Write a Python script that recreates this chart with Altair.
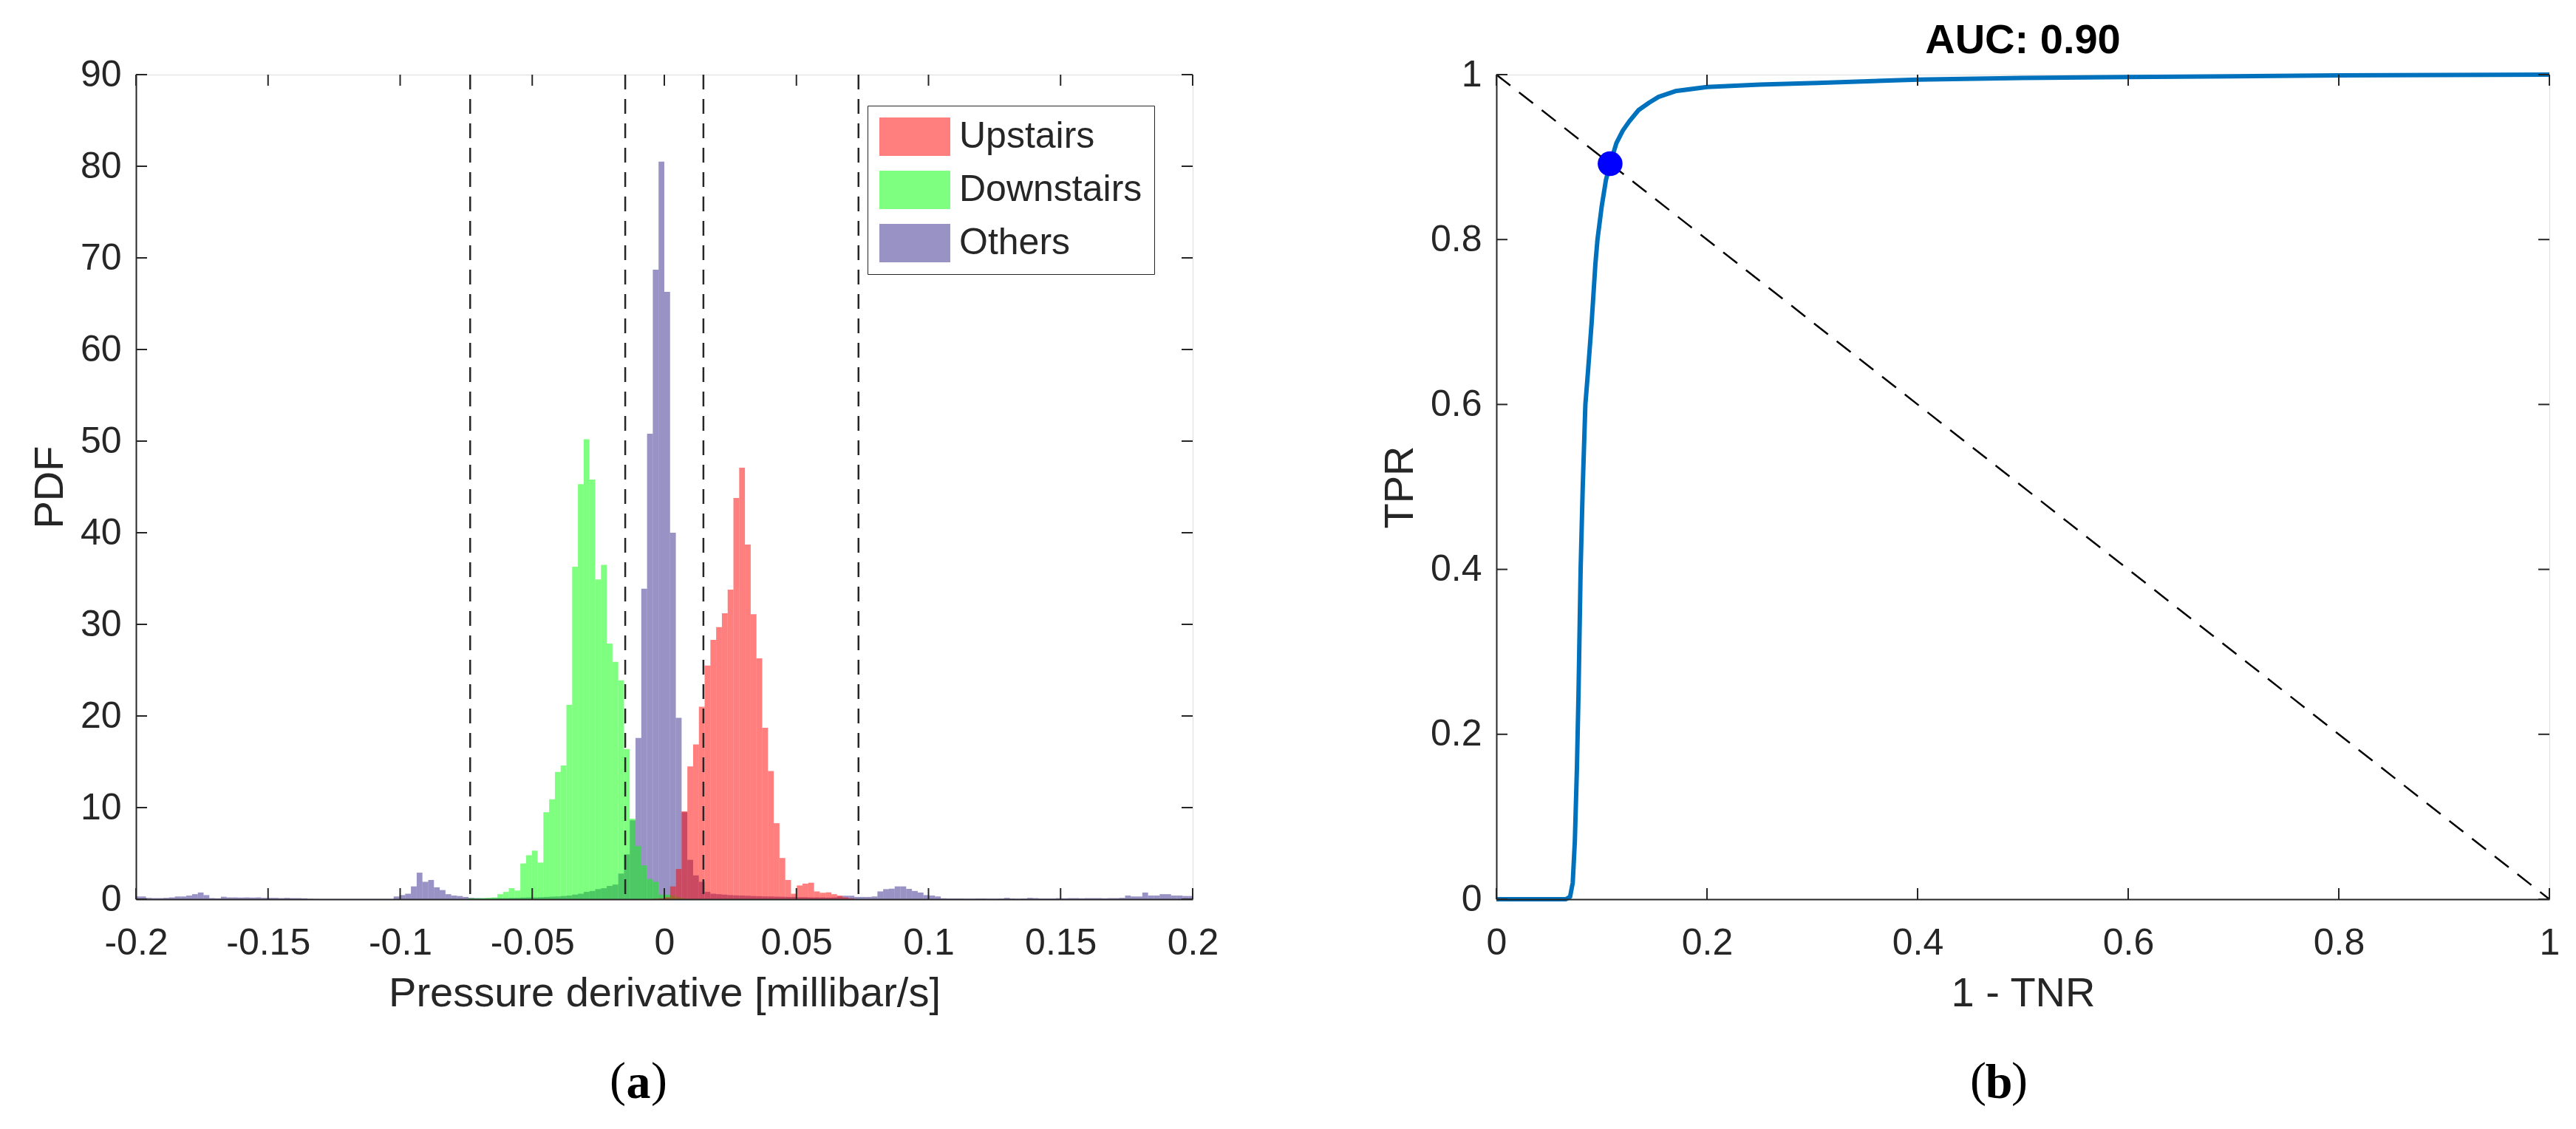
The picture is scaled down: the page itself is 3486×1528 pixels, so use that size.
import altair as alt
import pandas as pd

# ---------------- data: panel (a) histograms ----------------
BIN_W = 0.00218  # bin width of the PDF histograms [millibar/s]

# each series: index of the first bin (bin k spans [k*BIN_W, (k+1)*BIN_W]) and PDF values
up_start = -2
up_vals = [0.05, 0.1, 0.2, 1.4, 3.3, 9.6, 14.5, 16.9, 21.0, 25.5, 28.3, 29.7, 31.2, 33.8,
           43.8, 47.1, 38.7, 31.1, 26.3, 18.7, 14.0, 8.3, 4.5, 2.1, 0.6, 1.5, 1.7, 1.8,
           0.85, 0.7, 0.75, 0.55, 0.4, 0.2, 0.1]

down_start = -34
down_vals = [0.1, 0.1, 0.12, 0.15, 0.2, 0.55, 0.8, 1.2, 0.95, 3.9, 4.8, 5.3, 4.0, 9.5,
             10.9, 13.9, 14.6, 21.2, 36.3, 45.3, 50.2, 45.8, 34.9, 36.5, 27.9, 25.9, 23.9,
             16.4, 8.8, 5.8, 3.7, 2.2, 1.9, 0.5, 0.5, 0.4, 0.2, 0.1]

oth_start = -92
oth_vals = [
    # -92 .. -60
    0.3, 0.3, 0.15, 0.12, 0.12, 0.15, 0.2, 0.3, 0.3, 0.4, 0.55, 0.73, 0.45, 0.12, 0.1,
    0.27, 0.2, 0.2, 0.18, 0.2, 0.18, 0.2, 0.15, 0.15, 0.15, 0.12, 0.15, 0.12, 0.12, 0.1,
    0.05, 0.03, 0.02,
    # -59 .. -48
    0.02, 0.02, 0.02, 0.02, 0.02, 0.02, 0.02, 0.02, 0.02, 0.02, 0.02, 0.02,
    # -47 .. -34
    0.3, 0.45, 0.6, 1.4, 2.9, 1.9, 2.1, 1.3, 1.0, 0.55, 0.4, 0.35, 0.25, 0.15,
    # -33 .. -17
    0.12, 0.1, 0.1, 0.1, 0.12, 0.12, 0.15, 0.15, 0.18, 0.2, 0.2, 0.22, 0.25, 0.28, 0.3,
    0.35, 0.4,
    # -16 .. 11
    0.5, 0.6, 0.8, 0.9, 1.1, 1.2, 1.45, 1.6, 2.8, 4.9, 8.6, 17.6, 33.9, 50.8, 68.7, 80.5,
    66.3, 40.0, 19.8, 9.5, 4.3, 2.6, 1.9, 0.8, 0.6, 0.55, 0.5, 0.45,
    # 12 .. 47
    0.42, 0.4, 0.38, 0.35, 0.33, 0.3, 0.3, 0.28, 0.27, 0.25, 0.25, 0.22, 0.22, 0.2, 0.2,
    0.2, 0.18, 0.2, 0.3, 0.38, 0.38, 0.25, 0.25, 0.25, 0.3, 0.85, 1.1, 1.15, 1.4, 1.4,
    1.13, 0.9, 0.73, 0.45, 0.4, 0.3,
    # 48 .. 91
    0.1, 0.08, 0.08, 0.08, 0.06, 0.06, 0.08, 0.08, 0.06, 0.06, 0.08, 0.15, 0.08, 0.06,
    0.08, 0.15, 0.12, 0.08, 0.08, 0.08, 0.12, 0.1, 0.12, 0.12, 0.1, 0.12, 0.12, 0.12,
    0.1, 0.12, 0.12, 0.15, 0.4, 0.3, 0.3, 0.73, 0.4, 0.4, 0.55, 0.55, 0.4, 0.4, 0.35, 0.35,
]

thresholds = [-0.0735, -0.0148, 0.0148, 0.0735]
series_names = ["Upstairs", "Downstairs", "Others"]
series_colors = ["#FF0000", "#00FF00", "#33288C"]

x_ticks_a = [-0.2, -0.15, -0.1, -0.05, 0, 0.05, 0.1, 0.15, 0.2]
y_ticks_a = [0, 10, 20, 30, 40, 50, 60, 70, 80, 90]

# ---------------- data: panel (b) ROC ----------------
fpr = [0, 0.066, 0.0700, 0.0725, 0.0745, 0.0765, 0.0780, 0.0800, 0.0820, 0.0845, 0.0870,
       0.0905, 0.0940, 0.0960, 0.1000, 0.1040, 0.1080, 0.1140, 0.1200, 0.1260, 0.1350,
       0.1450, 0.1540, 0.1700, 0.2000, 0.2500, 0.3050, 0.4000, 0.5000, 0.6000, 0.7000,
       0.8000, 0.9000, 1.0]
tpr = [0, 0, 0.003, 0.02, 0.07, 0.16, 0.25, 0.40, 0.50, 0.60, 0.64, 0.70, 0.77, 0.80, 0.84,
       0.872, 0.892, 0.917, 0.932, 0.943, 0.957, 0.966, 0.973, 0.980, 0.985, 0.988, 0.990,
       0.994, 0.996, 0.997, 0.998, 0.999, 0.9995, 1.0]
chance_x = [0, 1]
chance_y = [1, 0]
op_fpr = [0.108]
op_tpr = [0.892]
x_ticks_b = [0, 0.2, 0.4, 0.6, 0.8, 1]
y_ticks_b = [0, 0.2, 0.4, 0.6, 0.8, 1]

# ---------------- styling ----------------
FONT = "Liberation Sans"
SERIF = "Liberation Serif"
AX = "#262626"
W_A, H_A = 1430, 1116
W_B, H_B = 1425, 1116
TICK = 15
LBL = 50
TTL = 56

# ---------------- build tables ----------------
rows = []
for name, start, vals in [("Others", oth_start, oth_vals),
                          ("Downstairs", down_start, down_vals),
                          ("Upstairs", up_start, up_vals)]:
    for i, v in enumerate(vals):
        k = start + i
        rows.append({"series": name, "x0": k * BIN_W, "x1": (k + 1) * BIN_W, "pdf": v})
hist_df = pd.DataFrame(rows)
thr_df = pd.DataFrame({"t": thresholds})
xt_a = pd.DataFrame({"v": x_ticks_a})
yt_a = pd.DataFrame({"v": y_ticks_a})

roc_df = pd.DataFrame({"fpr": fpr, "tpr": tpr, "i": list(range(len(fpr)))})
chance_df = pd.DataFrame({"fpr": chance_x, "tpr": chance_y})
op_df = pd.DataFrame({"fpr": op_fpr, "tpr": op_tpr})
xt_b = pd.DataFrame({"v": x_ticks_b})
yt_b = pd.DataFrame({"v": y_ticks_b})


def x_axis(values, title):
    return alt.Axis(values=values, title=title, labelExpr="'' + datum.value",
                    labelFontSize=LBL, titleFontSize=TTL, labelFont=FONT, titleFont=FONT,
                    labelColor=AX, titleColor=AX, titleFontWeight="normal",
                    ticks=False, tickSize=0, domain=True, domainColor=AX, domainWidth=2,
                    grid=False, labelPadding=34, titlePadding=16, labelFlush=False,
                    labelOverlap=False, zindex=1)


def y_axis(values, title):
    return alt.Axis(values=values, title=title, labelExpr="'' + datum.value",
                    labelFontSize=LBL, titleFontSize=TTL, labelFont=FONT, titleFont=FONT,
                    labelColor=AX, titleColor=AX, titleFontWeight="normal",
                    ticks=False, tickSize=0, domain=True, domainColor=AX, domainWidth=2,
                    grid=False, labelPadding=20, titlePadding=12, labelFlush=False,
                    labelOverlap=False, zindex=1)


def inner_ticks(xt, yt, xscale, yscale, W, H):
    bx = alt.Chart(xt).mark_rule(color=AX, strokeWidth=2).encode(
        x=alt.X("v:Q", scale=xscale), y=alt.value(H), y2=alt.value(H - TICK))
    tx = alt.Chart(xt).mark_rule(color=AX, strokeWidth=2).encode(
        x=alt.X("v:Q", scale=xscale), y=alt.value(0), y2=alt.value(TICK))
    ly = alt.Chart(yt).mark_rule(color=AX, strokeWidth=2).encode(
        y=alt.Y("v:Q", scale=yscale), x=alt.value(0), x2=alt.value(TICK))
    ry = alt.Chart(yt).mark_rule(color=AX, strokeWidth=2).encode(
        y=alt.Y("v:Q", scale=yscale), x=alt.value(W - TICK), x2=alt.value(W))
    return [bx, tx, ly, ry]


def caption(letter, W, H):
    cx = 680
    cy = H + 249
    base = alt.Chart(pd.DataFrame({"c": [letter]}))
    mid = base.mark_text(font=SERIF, fontSize=66, fontWeight="bold", color="black",
                         baseline="middle", align="center").encode(
        text="c:N", x=alt.value(cx), y=alt.value(cy))
    lp = base.mark_text(font=SERIF, fontSize=66, color="black", baseline="middle",
                        align="right", text="(").encode(x=alt.value(cx - 17), y=alt.value(cy - 3))
    rp = base.mark_text(font=SERIF, fontSize=66, color="black", baseline="middle",
                        align="left", text=")").encode(x=alt.value(cx + 17), y=alt.value(cy - 3))
    return [lp, mid, rp]


# ---------------- panel (a) ----------------
xs_a = alt.Scale(domain=[-0.2, 0.2], nice=False, zero=False)
ys_a = alt.Scale(domain=[0, 90], nice=False, zero=False)

bars = alt.Chart(hist_df).mark_rect(clip=True, opacity=0.5).encode(
    x=alt.X("x0:Q", scale=xs_a, axis=x_axis(x_ticks_a, "Pressure derivative [millibar/s]")),
    x2="x1:Q",
    y=alt.Y("pdf:Q", scale=ys_a, axis=y_axis(y_ticks_a, "PDF")),
    y2=alt.datum(0),
    color=alt.Color("series:N",
                    scale=alt.Scale(domain=series_names, range=series_colors),
                    legend=alt.Legend(title=None, orient="none", legendX=990, legendY=42,
                                      symbolType="M-1,-0.54H1V0.54H-1Z", symbolSize=9216,
                                      symbolOpacity=0.5, symbolStrokeWidth=0,
                                      clipHeight=52, rowPadding=20, labelOffset=12,
                                      labelLimit=600,
                                      labelFontSize=LBL, labelFont=FONT, labelColor=AX,
                                      padding=16, strokeColor=AX, fillColor="white")),
)

thr = alt.Chart(thr_df).mark_rule(color=AX, strokeWidth=2.5, strokeDash=[20, 13]).encode(
    x=alt.X("t:Q", scale=xs_a))

panel_a = alt.layer(bars, thr, *inner_ticks(xt_a, yt_a, xs_a, ys_a, W_A, H_A),
                    *caption("a", W_A, H_A)).properties(width=W_A, height=H_A)

# ---------------- panel (b) ----------------
xs_b = alt.Scale(domain=[0, 1], nice=False, zero=False)
ys_b = alt.Scale(domain=[0, 1], nice=False, zero=False)

chance = alt.Chart(chance_df).mark_line(color="black", strokeWidth=2.5,
                                        strokeDash=[24, 15]).encode(
    x=alt.X("fpr:Q", scale=xs_b, axis=x_axis(x_ticks_b, "1 - TNR")),
    y=alt.Y("tpr:Q", scale=ys_b, axis=y_axis(y_ticks_b, "TPR")))

roc = alt.Chart(roc_df).mark_line(color="#0072BD", strokeWidth=6, strokeJoin="round").encode(
    x=alt.X("fpr:Q", scale=xs_b), y=alt.Y("tpr:Q", scale=ys_b), order="i:Q")

op = alt.Chart(op_df).mark_point(filled=True, color="#0000FF", opacity=1, size=1130,
                                 shape="circle").encode(
    x=alt.X("fpr:Q", scale=xs_b), y=alt.Y("tpr:Q", scale=ys_b))

panel_b = alt.layer(chance, roc, op, *inner_ticks(xt_b, yt_b, xs_b, ys_b, W_B, H_B),
                    *caption("b", W_B, H_B)).properties(
    width=W_B, height=H_B,
    title=alt.TitleParams("AUC: 0.90", fontSize=TTL, font=FONT, fontWeight="bold",
                          color="black", anchor="middle", offset=-8))

chart = alt.hconcat(panel_a, panel_b, spacing=411, bounds="flush").properties(
    padding={"left": 30, "top": 18, "right": 5, "bottom": 5}).configure_view(
    stroke=AX, strokeWidth=2).configure_legend(strokeWidth=2).configure(
    background="white")

chart.save("out.html", embed_options={"renderer": "svg", "actions": False})
